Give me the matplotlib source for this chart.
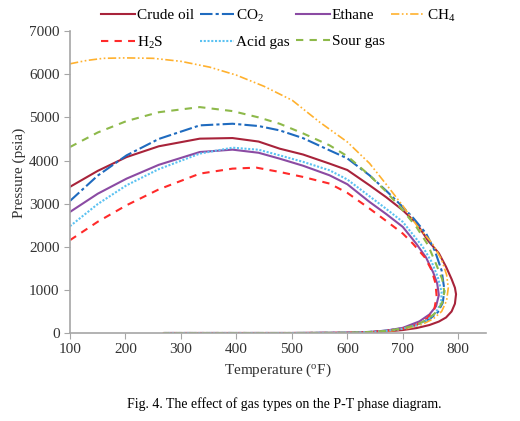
import matplotlib
matplotlib.use("Agg")
import matplotlib.pyplot as plt

plt.rcParams['font.family'] = ['Liberation Serif', 'DejaVu Serif']
plt.rcParams['mathtext.fontset'] = 'custom'
plt.rcParams['mathtext.rm'] = 'Liberation Serif'
plt.rcParams['mathtext.it'] = 'Liberation Serif:italic'

# phase envelopes, traced from upper (bubble) branch round the nose to the lower (dew) branch
crude_T = [100, 150, 202, 260, 334, 393, 440, 478, 520, 568, 600, 640, 670, 700, 725, 745, 765,
           778, 788, 794, 796, 794, 788, 778, 765, 748, 725, 700, 670, 640, 620, 500, 400, 300, 270]
crude_P = [3390, 3760, 4080, 4330, 4507, 4521, 4440, 4275, 4140, 3928, 3780, 3426, 3150, 2847, 2540, 2150, 1850,
           1535, 1250, 1050, 900, 680, 500, 360, 265, 185, 115, 69, 35, 15, 5, 0, 0, 0, 0]

co2_T = [100, 150, 202, 260, 334, 393, 440, 478, 520, 568, 600, 640, 670, 700, 720, 742, 758,
         770, 775, 772, 763, 748, 725, 700, 670, 640, 600, 500, 400, 300, 270]
co2_P = [3063, 3650, 4120, 4500, 4815, 4853, 4800, 4699, 4520, 4236, 4050, 3657, 3300, 2924, 2650, 2307, 1900,
         1450, 1000, 700, 480, 320, 190, 110, 55, 25, 5, 0, 0, 0, 0]

ethane_T = [100, 150, 202, 260, 334, 393, 440, 478, 520, 568, 600, 640, 670, 700, 724, 742, 755,
            762, 765, 760, 748, 730, 700, 670, 640, 600, 500, 400, 300, 270]
ethane_P = [2808, 3230, 3580, 3900, 4197, 4252, 4180, 4043, 3880, 3657, 3450, 3040, 2760, 2461, 2076, 1750, 1400,
            1150, 880, 620, 430, 270, 120, 55, 25, 5, 0, 0, 0, 0]

ch4_T = [100, 130, 160, 200, 250, 300, 352, 400, 450, 501, 550, 600, 640, 670, 700, 725, 753,
         770, 779, 782, 779, 770, 755, 735, 710, 680, 650, 600, 500, 400, 300, 267]
ch4_P = [6243, 6320, 6370, 6380, 6370, 6300, 6165, 5980, 5720, 5394, 4891, 4430, 3935, 3450, 2950, 2500, 2083,
         1700, 1350, 1050, 750, 500, 330, 200, 110, 50, 20, 5, 0, 0, 0, 0]

h2s_T = [100, 150, 202, 260, 334, 393, 436, 478, 520, 568, 600, 640, 670, 700, 718, 740, 752,
         759, 761, 757, 745, 725, 700, 670, 640, 600, 500, 400, 300, 270]
h2s_P = [2153, 2580, 2963, 3330, 3696, 3812, 3835, 3735, 3620, 3465, 3250, 2886, 2600, 2307, 2076, 1750, 1458,
         1150, 850, 560, 350, 190, 100, 50, 22, 5, 0, 0, 0, 0]

acid_T = [100, 150, 202, 260, 334, 393, 440, 478, 520, 568, 600, 640, 670, 700, 736, 752, 763,
          770, 769, 760, 745, 725, 700, 670, 640, 600, 500, 400, 300, 270]
acid_P = [2477, 2990, 3426, 3800, 4160, 4298, 4250, 4120, 3970, 3773, 3560, 3171, 2880, 2577, 1998, 1650, 1300,
          950, 700, 480, 310, 180, 100, 50, 22, 5, 0, 0, 0, 0]

sour_T = [100, 150, 202, 260, 334, 393, 440, 478, 520, 568, 600, 640, 670, 700, 725, 745, 760,
          771, 775, 771, 760, 745, 725, 700, 670, 640, 600, 500, 400, 300, 270]
sour_P = [4313, 4650, 4915, 5120, 5239, 5146, 5000, 4853, 4630, 4352, 4100, 3657, 3280, 2847, 2450, 2050, 1600,
          1250, 950, 700, 480, 320, 190, 105, 50, 22, 5, 0, 0, 0, 0]

fig = plt.figure(figsize=(5.2, 4.21), dpi=100)
ax = fig.add_axes([0.1346, 0.209, 0.80, 0.717])

l_crude, = ax.plot(crude_T, crude_P, color='#A8233A', lw=1.5, label='Crude oil')
l_co2, = ax.plot(co2_T, co2_P, color='#1F6BBF', lw=1.5, ls=(0, (6, 1.5, 1.5, 1.5)), label='CO$_2$')
l_eth, = ax.plot(ethane_T, ethane_P, color='#8B4BA3', lw=1.5, label='Ethane')
l_ch4, = ax.plot(ch4_T, ch4_P, color='#FFB12E', lw=1.2, ls=(0, (5, 1.5, 1, 1.5, 1, 1.5)), label='CH$_4$')
l_h2s, = ax.plot(h2s_T, h2s_P, color='#FF2A2A', lw=1.5, ls=(0, (3.5, 3)), label='H$_2$S')
l_acid, = ax.plot(acid_T, acid_P, color='#5BC2F2', lw=1.5, ls=(0, (1, 0.8)), label='Acid gas')
l_sour, = ax.plot(sour_T, sour_P, color='#8DB94A', lw=1.5, ls=(0, (3.5, 3)), label='Sour gas')

ax.set_xlim(100, 850)
ax.set_ylim(0, 7000)
ax.set_xticks(range(100, 900, 100))
ax.set_yticks(range(0, 8000, 1000))
ax.spines['top'].set_visible(False)
ax.spines['right'].set_visible(False)
for s in ['left', 'bottom']:
    ax.spines[s].set_color('#A6A6A6')
    ax.spines[s].set_linewidth(1.2)
ax.tick_params(colors='#A6A6A6', labelcolor='#333333', labelsize=11, length=4, direction='out')
ax.set_xlabel('Temperature ($^{\\mathrm{o}}$F)', fontsize=11, color='#333333')
ax.set_ylabel('Pressure (psia)', fontsize=11, color='#333333')
ax.yaxis.set_label_coords(-0.105, 0.53)

handles = [l_crude, l_h2s, l_co2, l_acid, l_eth, l_sour, l_ch4]
fig.legend(handles, [h.get_label() for h in handles], loc='upper center',
           bbox_to_anchor=(0.535, 1.015), ncol=4, frameon=False, fontsize=11,
           handlelength=2.2, columnspacing=0.4, handletextpad=0.15, labelspacing=0.8)

fig.text(0.546, 0.032, 'Fig. 4. The effect of gas types on the P-T phase diagram.',
         ha='center', fontsize=10)

fig.savefig('out.png', dpi=100)
